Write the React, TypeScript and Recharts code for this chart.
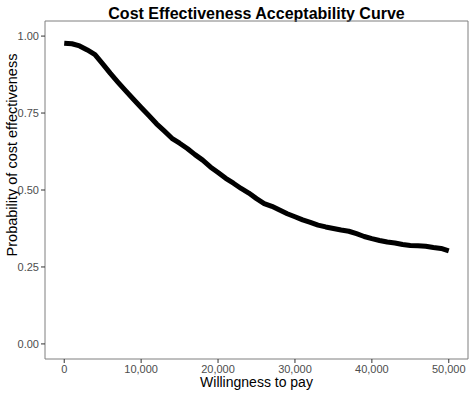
import { LineChart, Line, XAxis, YAxis, ReferenceArea, Label } from 'recharts'

const wtp = [
  0, 1000, 2000, 3000, 4000, 5000, 6000, 7000, 8000, 9000,
  10000, 11000, 12000, 13000, 14000, 15000, 16000, 17000, 18000, 19000,
  20000, 21000, 22000, 23000, 24000, 25000, 26000, 27000, 28000, 29000,
  30000, 31000, 32000, 33000, 34000, 35000, 36000, 37000, 38000, 39000,
  40000, 41000, 42000, 43000, 44000, 45000, 46000, 47000, 48000, 49000, 50000,
]
const probCE = [
  0.977, 0.975, 0.968, 0.955, 0.94, 0.91, 0.879, 0.85, 0.822, 0.795,
  0.768, 0.742, 0.715, 0.692, 0.668, 0.652, 0.635, 0.615, 0.597, 0.575,
  0.557, 0.538, 0.522, 0.505, 0.49, 0.472, 0.456, 0.447, 0.435, 0.423,
  0.413, 0.403, 0.395, 0.386, 0.38, 0.375, 0.37, 0.366, 0.358, 0.349,
  0.342, 0.336, 0.331, 0.328, 0.323, 0.32, 0.319, 0.317, 0.313, 0.31, 0.302,
]
const xTicks = [0, 10000, 20000, 30000, 40000, 50000]
const yTicks = [0, 0.25, 0.5, 0.75, 1]

const data = wtp.map((w, i) => ({ wtp: w, prob: probCE[i] }))

const font = 'Liberation Sans, Arial, sans-serif'
const tickStyle = { fontSize: 11, fill: '#4d4d4d', fontFamily: font }

export default function App() {
  return (
    <div style={{ position: 'absolute', left: 0, top: 0, width: 474, height: 395, background: '#fff' }}>
      <LineChart width={474} height={395} data={data} margin={{ top: 21, right: 6, left: 0, bottom: 0 }}>
        <XAxis
          dataKey="wtp"
          type="number"
          domain={[-2500, 52500]}
          ticks={xTicks}
          tickFormatter={(v: number) => v.toLocaleString('en-US')}
          tick={tickStyle}
          tickLine={{ stroke: '#333' }}
          tickSize={4}
          axisLine={false}
          height={36}
          interval={0}
          allowDataOverflow
        >
          <Label
            content={() => (
              <text x={256.5} y={387} textAnchor="middle" fontSize={14} fontFamily={font} fill="#000">
                Willingness to pay
              </text>
            )}
          />
        </XAxis>
        <YAxis
          type="number"
          domain={[-0.049, 1.049]}
          ticks={yTicks}
          tickFormatter={(v: number) => v.toFixed(2)}
          tick={tickStyle}
          tickLine={{ stroke: '#333' }}
          tickSize={4}
          axisLine={false}
          width={45}
          interval={0}
          allowDataOverflow
        >
          <Label
            content={() => (
              <text
                x={17}
                y={155}
                transform="rotate(-90 17 155)"
                textAnchor="middle"
                fontSize={14.5}
                fontFamily={font}
                fill="#000"
              >
                Probability of cost effectiveness
              </text>
            )}
          />
        </YAxis>
        <ReferenceArea
          x1={-2500}
          x2={52500}
          y1={-0.049}
          y2={1.049}
          fill="none"
          stroke="#7f7f7f"
          strokeWidth={1}
          ifOverflow="visible"
        />
        <Line
          type="linear"
          dataKey="prob"
          stroke="#000"
          strokeWidth={5}
          strokeLinejoin="round"
          dot={false}
          isAnimationActive={false}
        />
        <text x={256.5} y={19} textAnchor="middle" fontSize={16} fontWeight="bold" fontFamily={font} fill="#000">
          Cost Effectiveness Acceptability Curve
        </text>
      </LineChart>
    </div>
  )
}
